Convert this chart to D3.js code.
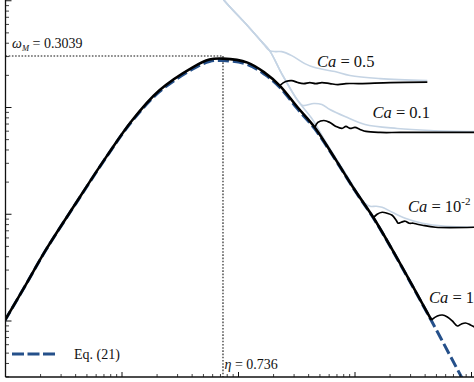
<!DOCTYPE html>
<html>
<head>
<meta charset="utf-8">
<script src="https://cdn.jsdelivr.net/npm/d3@7"></script>
<style>
  html, body { margin: 0; padding: 0; background: #fff; }
  svg { display: block; }
  text { font-family: "Liberation Serif", "DejaVu Serif", serif; fill: #111; }
</style>
</head>
<body>
<svg id="chart" width="474" height="382"></svg>
<script>
// ---- data (eta, omega) ----
const mainCurve = [
  [0.0098,0.00100],[0.01487,0.002169],[0.02213,0.004613],[0.04011,0.01267],
  [0.07278,0.03409],[0.1219,0.07558],[0.2085,0.1442],[0.4013,0.2365],
  [0.5623,0.2809],[0.736,0.2870],[1.196,0.2634],[1.675,0.2124],
  [2.257,0.1606],[3.226,0.1000],[4.520,0.06503],[6.723,0.03337],
  [10.0,0.01676],[14.87,0.008790],[23.49,0.003716],[45.20,0.001022]
];
const eq21Curve = [
  [0.0098,0.000995],[0.01487,0.002160],[0.02213,0.004590],[0.04011,0.01258],
  [0.07278,0.03380],[0.1219,0.07440],[0.2085,0.1400],[0.4013,0.2280],
  [0.5623,0.2700],[0.736,0.2755],[1.196,0.2530],[1.675,0.2045],
  [2.257,0.1550],[3.226,0.09650],[4.520,0.06300],[6.723,0.03300],
  [10.0,0.01660],[14.87,0.008700],[23.49,0.003680],[45.20,0.001010],
  [82.0,0.0002997],[102.0,0.0001949]
];
const ca05 = [
  [2.257,0.1606],[2.542,0.1750],[2.863,0.1788],[3.226,0.1713],[3.634,0.1676],
  [4.094,0.1713],[4.611,0.1676],[5.194,0.1713],[6.087,0.1676],[7.135,0.1640],
  [8.365,0.1676],[11.04,0.1676],[20.03,0.1713],[41.76,0.1730]
];
const ca01 = [
  [4.520,0.06503],[4.797,0.07243],[5.404,0.07558],[6.087,0.07243],[6.859,0.06645],
  [7.727,0.06365],[8.365,0.06645],[9.056,0.06365],[10.0,0.06503],[11.04,0.06229],
  [12.44,0.05965],[16.43,0.05839],[24.43,0.05839],[106.1,0.05839]
];
const ca001 = [
  [14.29,0.009175],[15.48,0.01000],[17.09,0.01044],[18.87,0.01022],[20.84,0.009788],
  [22.56,0.008787],[23.49,0.008237],[24.92,0.008417],[26.98,0.008603],[29.21,0.008237],
  [31.62,0.008237],[34.23,0.008062],[37.81,0.007891],[48.94,0.007558],[106.1,0.007558]
];
const ca0001 = [
  [45.20,0.001022],[50.92,0.001113],[56.23,0.001138],[62.11,0.001090],[68.59,0.001000],
  [75.74,0.000898],[82.0,0.000938],[88.78,0.000958],[98.0,0.000918],[106.1,0.000879]
];
const light05 = [
  [0.6993,1.138],[0.7573,1.0],[1.196,0.5839],[1.579,0.4139],[1.850,0.3409],
  [2.084,0.3337],[2.348,0.3337],[2.863,0.3062],[3.707,0.2578],[4.520,0.2365],
  [6.723,0.2170],[9.056,0.1991],[16.43,0.1866],[41.76,0.1788]
];
const light01 = [
  [0.6993,1.138],[0.7573,1.0],[1.196,0.5839],[1.579,0.4139],[1.850,0.3409],
  [2.348,0.2079],[3.226,0.1162],[3.562,0.1044],[4.432,0.1090],[5.194,0.1067],
  [6.087,0.09579],[8.199,0.08238],[12.20,0.06936],[23.02,0.06365],[44.32,0.06095],[106.1,0.05965]
];
const light001 = [
  [0.6993,1.138],[0.7573,1.0],[1.196,0.5839],[1.579,0.4139],[1.850,0.3409],
  [2.348,0.2079],[3.226,0.1162],[4.260,0.07891],[5.512,0.04915],[8.199,0.02469],
  [12.20,0.01267],[13.47,0.01188],[15.17,0.01188],[17.09,0.01162],[20.84,0.01044],
  [26.98,0.009175],[37.81,0.008237],[59.69,0.007724],[106.1,0.007558]
];
const etaMax = 0.736;
const omegaMax = 0.3039;
const caLabels = ["0.5", "0.1", "10", "10"];
const legendLabel = "Eq. (21)";

// ---- scales ----
const W = 474, H = 382;
const left = 5.5, bottom = 377;
const x = d3.scaleLog().domain([0.01, 100]).range([left, 471.5]);
const y = d3.scaleLog().domain([1e-3, 1e-1]).range([321, 107.5]);

const svg = d3.select("#chart");
svg.append("defs").append("clipPath").attr("id", "clip")
  .append("rect").attr("x", left).attr("y", -20).attr("width", W).attr("height", bottom + 20);

const plot = svg.append("g").attr("clip-path", "url(#clip)");
const line = d3.line().x(d => x(d[0])).y(d => y(d[1])).curve(d3.curveCatmullRom.alpha(0.5));

const light = "#c5d4e4";
[light05, light01, light001].forEach(s => {
  plot.append("path").attr("d", line(s)).attr("fill", "none")
    .attr("stroke", light).attr("stroke-width", 1.6);
});

// dotted reference lines
plot.append("line").attr("x1", x(0.01)).attr("x2", x(etaMax))
  .attr("y1", y(omegaMax)).attr("y2", y(omegaMax))
  .attr("stroke", "#111").attr("stroke-width", 1.1).attr("stroke-dasharray", "1.6,1.6");
plot.append("line").attr("x1", x(etaMax)).attr("x2", x(etaMax))
  .attr("y1", y(omegaMax)).attr("y2", bottom)
  .attr("stroke", "#111").attr("stroke-width", 1.1).attr("stroke-dasharray", "1.6,1.6");

const blue = "#25508a";
plot.append("path").attr("d", line(eq21Curve)).attr("fill", "none")
  .attr("stroke", blue).attr("stroke-width", 3).attr("stroke-dasharray", "11,4");

[ca05, ca01, ca001, ca0001].forEach(s => {
  plot.append("path").attr("d", line(s)).attr("fill", "none")
    .attr("stroke", "#000").attr("stroke-width", 1.7).attr("stroke-linejoin", "round");
});
plot.append("path").attr("d", line(mainCurve)).attr("fill", "none")
  .attr("stroke", "#000").attr("stroke-width", 2.6).attr("stroke-linejoin", "round");

// ---- axes (spines + inward ticks) ----
const ax = svg.append("g");
const xt = d3.scaleLog().domain([0.01, 100]).ticks();
xt.forEach(v => {
  const px = x(v);
  if (px < left - 0.5 || px > W) return;
  const major = Math.abs(Math.log10(v) - Math.round(Math.log10(v))) < 1e-6;
  ax.append("line").attr("x1", px).attr("x2", px).attr("y1", bottom).attr("y2", bottom - (major ? 5 : 3))
    .attr("stroke", "#111").attr("stroke-width", major ? 1 : 0.8);
});
const yt = d3.scaleLog().domain([y.invert(bottom), y.invert(0)]).ticks();
yt.forEach(v => {
  const py = y(v);
  if (py < 0 || py > bottom) return;
  const major = Math.abs(Math.log10(v) - Math.round(Math.log10(v))) < 1e-6;
  ax.append("line").attr("x1", left).attr("x2", left + (major ? 6 : 3.5)).attr("y1", py).attr("y2", py)
    .attr("stroke", "#111").attr("stroke-width", major ? 1 : 0.8);
});
ax.append("line").attr("x1", left).attr("x2", left).attr("y1", 0).attr("y2", bottom)
  .attr("stroke", "#111").attr("stroke-width", 1.3);
ax.append("line").attr("x1", left).attr("x2", W).attr("y1", bottom).attr("y2", bottom)
  .attr("stroke", "#111").attr("stroke-width", 1.3);

// ---- labels ----
function caText(tx, ty, val, sup) {
  const t = svg.append("text").attr("x", tx).attr("y", ty).attr("font-size", 16.5);
  t.append("tspan").attr("font-style", "italic").text("Ca");
  t.append("tspan").text(" = " + val);
  if (sup) t.append("tspan").attr("font-size", 11).attr("dy", -7).text(sup);
}
caText(317, 66.5, caLabels[0]);
caText(372.5, 117.5, caLabels[1]);
caText(408, 212, caLabels[2], "-2");
caText(429, 303, caLabels[3], "-3");

const om = svg.append("text").attr("x", 12).attr("y", 48).attr("font-size", 14);
om.append("tspan").attr("font-style", "italic").text("ω");
om.append("tspan").attr("font-style", "italic").attr("font-size", 8.5).attr("dy", 3).text("M");
om.append("tspan").attr("dy", -3).text(" = " + omegaMax);

const et = svg.append("text").attr("x", 224.5).attr("y", 368.5).attr("font-size", 14);
et.append("tspan").attr("font-style", "italic").text("η");
et.append("tspan").text(" = " + etaMax);

// legend
svg.append("line").attr("x1", 12).attr("x2", 55).attr("y1", 354).attr("y2", 354)
  .attr("stroke", blue).attr("stroke-width", 3).attr("stroke-dasharray", "12,3.5");
svg.append("text").attr("x", 74).attr("y", 358.5).attr("font-size", 14).text(legendLabel);
</script>
</body>
</html>
